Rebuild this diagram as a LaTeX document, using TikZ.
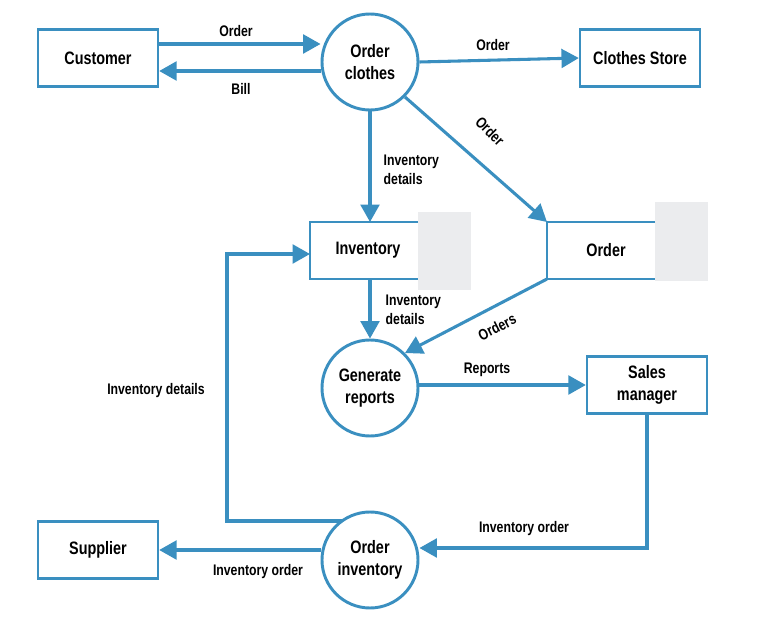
\documentclass[tikz,border=0pt]{standalone}
\usepackage{fontspec}
\setmainfont{Liberation Sans}[FakeStretch=0.8]
\usetikzlibrary{arrows.meta}
\definecolor{bl}{HTML}{3A8FC0}
\definecolor{gr}{HTML}{EBECEE}
\begin{document}
\begin{tikzpicture}[x=0.75pt,y=-0.75pt,
  every node/.style={font=\bfseries\fontsize{13.5}{16.5}\selectfont},
  ent/.style={draw=bl,line width=1.8pt,minimum width=90pt,minimum height=43pt,inner sep=0pt,align=center},
  proc/.style={draw=bl,line width=2.2pt,circle,minimum size=72pt,inner sep=0pt,align=center},
  flow/.style={draw=bl,line width=2.3pt,-{Triangle[length=13pt,width=14pt]}},
  lab/.style={font=\bfseries\fontsize{11.5}{14}\selectfont,align=left}]
\useasboundingbox (0,0) rectangle (776,624);
\fill[white] (0,0) rectangle (776,624);
% entities
\node[ent] (cust) at (98,58) {Customer};
\node[ent] (store) at (640,58) {Clothes Store};
\node[ent,minimum height=43pt] (sales) at (647,385) {Sales\\manager};
\node[ent] (supp) at (98,550) {Supplier};
% processes
\node[proc] (oc) at (370,62) {Order\\clothes};
\node[proc] (gr) at (370,388) {Generate\\reports};
\node[proc] (oi) at (370,560) {Order\\inventory};
% data stores
\fill[gr] (418,212) rectangle (471,290);
\draw[bl,line width=2.2pt] (418,222) -- (310,222) -- (310,279) -- (418,279);
\node (inv) at (368,250) {Inventory};
\fill[gr] (655,202) rectangle (708,281);
\draw[bl,line width=2.2pt] (655,222) -- (547,222) -- (547,279) -- (655,279);
\node (ord) at (606,250) {Order};
\coordinate (invT) at (370,222);
\coordinate (invB) at (370,279);
\coordinate (invL) at (310,254);
\coordinate (ordTL) at (547,222);
\coordinate (ordBL) at (547,279);
\coordinate (oiNW) at (342,521);
% flows
\draw[flow] (cust.east |- 0,44) -- (oc.west |- 0,44);
\draw[flow] (oc.west |- 0,71) -- (cust.east |- 0,71);
\node[lab] at (236,31) {Order};
\node[lab] at (241,89) {Bill};
\draw[flow] (oc.east) -- (store.west);
\node[lab] at (493,45) {Order};
\draw[flow] (oc.south east) -- (ordTL);
\node[lab,rotate=-45] at (490,131) {Order};
\draw[flow] (oc.south) -- (invT);
\node[lab,anchor=west] at (379,170) {Inventory\\details};
\draw[flow] (invB) -- (gr.north);
\node[lab,anchor=west] at (381,310) {Inventory\\details};
\draw[flow] (ordBL) -- (gr.north east);
\node[lab,rotate=27] at (497,327) {Orders};
\draw[flow] (gr.east |- 0,385) -- (sales.west);
\node[lab] at (487,370) {Reports};
\draw[flow] (sales.south) |- (oi.east |- 0,548);
\node[lab] at (524,529) {Inventory order};
\draw[flow] (oi.west |- 0,550) -- (supp.east);
\node[lab] at (258,572) {Inventory order};
\coordinate (c1) at (227,521);
\draw[flow] (oiNW) -- (c1) |- (invL);
\node[lab] at (156,391) {Inventory details};
\end{tikzpicture}
\end{document}
